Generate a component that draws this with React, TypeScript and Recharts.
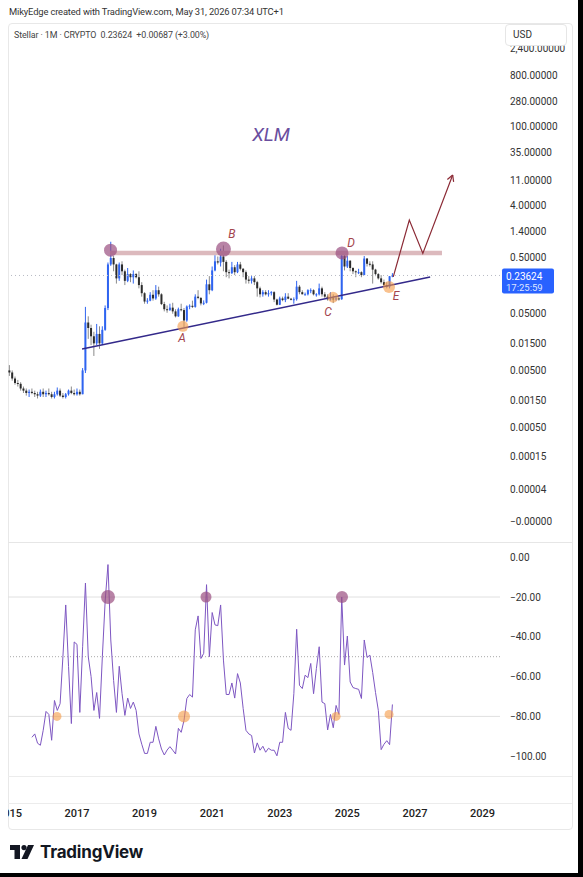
import React from "react";
import {
  ComposedChart,
  LineChart,
  Bar,
  Line,
  XAxis,
  YAxis,
  ReferenceLine,
  ReferenceDot,
} from "recharts";

const FONT = "Roboto, 'Noto Sans', Arial, sans-serif";

// ─── Price data (monthly, index 0 = Jan 2015) ────────────────────────────────
const FIRST_OPEN = 0.005;
const CLOSE = [
  0.0046, 0.0036, 0.003, 0.0029, 0.0024, 0.0022, 0.002, 0.0021, 0.002, 0.0019, 0.0018, 0.0021,
  0.0019, 0.002, 0.0019, 0.0017, 0.0019, 0.0022, 0.0018, 0.0017, 0.0019, 0.0022, 0.002, 0.0019,
  0.0021, 0.0019, 0.005, 0.035, 0.028, 0.02, 0.015, 0.022, 0.015, 0.026, 0.063, 0.37,
  0.48, 0.37, 0.21, 0.37, 0.28, 0.19, 0.25, 0.22, 0.25, 0.22, 0.16, 0.115,
  0.082, 0.085, 0.108, 0.093, 0.13, 0.11, 0.074, 0.06, 0.058, 0.064, 0.055, 0.045,
  0.06, 0.058, 0.038, 0.067, 0.069, 0.066, 0.1, 0.095, 0.076, 0.078, 0.165, 0.13,
  0.29, 0.42, 0.4, 0.51, 0.41, 0.27, 0.26, 0.33, 0.27, 0.37, 0.31, 0.27,
  0.2, 0.19, 0.21, 0.18, 0.14, 0.11, 0.12, 0.11, 0.115, 0.12, 0.089, 0.072,
  0.093, 0.087, 0.1, 0.092, 0.088, 0.09, 0.15, 0.12, 0.11, 0.11, 0.13, 0.13,
  0.11, 0.11, 0.14, 0.11, 0.1, 0.09, 0.093, 0.09, 0.093, 0.09, 0.52, 0.34,
  0.43, 0.32, 0.28, 0.27, 0.27, 0.24, 0.47, 0.38, 0.37, 0.3, 0.25, 0.21,
  0.18, 0.16, 0.15, 0.229, 0.23624,
];
const HIGH = [
  0.0062, 0.005, 0.0039, 0.0034, 0.0031, 0.0026, 0.0024, 0.0023, 0.0024, 0.0022, 0.0021, 0.0023,
  0.0024, 0.0022, 0.0024, 0.0021, 0.0021, 0.0025, 0.0024, 0.002, 0.002, 0.0023, 0.0026, 0.0023,
  0.0024, 0.0023, 0.0055, 0.066, 0.045, 0.032, 0.024, 0.033, 0.03, 0.03, 0.07, 0.4,
  0.93, 0.52, 0.38, 0.4, 0.42, 0.3, 0.32, 0.26, 0.29, 0.26, 0.28, 0.18,
  0.12, 0.094, 0.12, 0.13, 0.16, 0.15, 0.115, 0.081, 0.07, 0.075, 0.078, 0.06,
  0.064, 0.075, 0.063, 0.07, 0.073, 0.085, 0.11, 0.13, 0.098, 0.086, 0.2, 0.23,
  0.34, 0.54, 0.51, 0.7, 0.8, 0.44, 0.3, 0.41, 0.36, 0.41, 0.41, 0.32,
  0.29, 0.23, 0.23, 0.23, 0.19, 0.15, 0.13, 0.13, 0.13, 0.125, 0.125, 0.092,
  0.1, 0.1, 0.115, 0.115, 0.095, 0.097, 0.19, 0.16, 0.13, 0.118, 0.135, 0.14,
  0.135, 0.115, 0.17, 0.15, 0.12, 0.11, 0.12, 0.11, 0.1, 0.1, 0.64, 0.56,
  0.52, 0.44, 0.33, 0.29, 0.31, 0.28, 0.52, 0.48, 0.42, 0.42, 0.31, 0.26,
  0.24, 0.2, 0.18, 0.23, 0.26,
];
const LOW = [
  0.004, 0.0033, 0.0028, 0.0026, 0.0022, 0.002, 0.0018, 0.0017, 0.0019, 0.0017, 0.0016, 0.0017,
  0.0017, 0.0017, 0.0018, 0.0016, 0.0016, 0.0018, 0.0017, 0.0016, 0.0016, 0.0018, 0.0019, 0.0018,
  0.0018, 0.0018, 0.0019, 0.0045, 0.018, 0.014, 0.009, 0.014, 0.012, 0.014, 0.025, 0.058,
  0.35, 0.28, 0.17, 0.19, 0.24, 0.16, 0.18, 0.18, 0.17, 0.21, 0.14, 0.1,
  0.075, 0.075, 0.083, 0.085, 0.088, 0.1, 0.071, 0.055, 0.052, 0.056, 0.05, 0.043,
  0.044, 0.055, 0.029, 0.036, 0.06, 0.063, 0.064, 0.09, 0.07, 0.071, 0.076, 0.11,
  0.125, 0.28, 0.37, 0.34, 0.28, 0.22, 0.21, 0.25, 0.24, 0.26, 0.29, 0.22,
  0.17, 0.17, 0.17, 0.16, 0.1, 0.097, 0.1, 0.105, 0.1, 0.105, 0.08, 0.07,
  0.071, 0.083, 0.08, 0.09, 0.086, 0.075, 0.085, 0.11, 0.11, 0.105, 0.105, 0.115,
  0.105, 0.1, 0.105, 0.1, 0.095, 0.085, 0.085, 0.077, 0.085, 0.085, 0.088, 0.29,
  0.32, 0.28, 0.25, 0.22, 0.25, 0.22, 0.24, 0.34, 0.34, 0.17, 0.23, 0.2,
  0.17, 0.15, 0.14, 0.14, 0.22,
];

// ─── Williams %R (monthly, starts Sep 2015) ──────────────────────────────────
const WR_START = 8;
const WR = [
  -90.5, -88.8, -93.5, -94.5, -87, -77.5, -79, -92, -72, -77, -73.6, -50,
  -24, -55, -83.6, -42.6, -43.8, -78, -45, -13, -50, -60, -77, -68,
  -81, -50, -22, -3.7, -41.6, -62, -78, -54.8, -68.6, -79.5, -70.8, -76,
  -72.8, -77, -88.8, -94, -98.6, -98.6, -93, -93, -85, -91.3, -96.4, -99.4,
  -96.9, -95.2, -97, -98.9, -86, -88, -82, -71, -69, -70.3, -36.5, -29.5,
  -50.9, -48.3, -13.8, -50, -27.8, -34, -34.4, -24, -51.7, -69, -69, -63.2,
  -70.8, -58.5, -63.2, -76, -87, -88.8, -89.6, -98.4, -93.3, -97, -95, -98,
  -96, -97, -97, -99.8, -93, -93, -78, -86, -87, -68.6, -36.2, -64.4,
  -66, -59.3, -60.5, -53.4, -68.6, -56, -45, -72.8, -73.6, -86.8, -79, -85.7,
  -74.5, -79, -20, -54.2, -39.6, -62.7, -65.5, -66, -66.4, -71, -41.6, -50.4,
  -49.2, -58, -68, -77, -96.7, -94, -92.2, -94.2, -74,
];

// ─── Axes ─────────────────────────────────────────────────────────────────────
const X_DOMAIN = [-0.5, 174.2];
const YEAR_TICKS = [2015, 2017, 2019, 2021, 2023, 2025, 2027, 2029];
const PRICE_DOMAIN = [4.71e-6, 6700];
const PRICE_TICKS = [2400, 800, 280, 100, 35, 11, 4, 1.4, 0.5, 0.05, 0.015, 0.005, 0.0015, 0.0005, 0.00015, 0.00004, 0.000011];
const PRICE_TICK_LABELS = [
  "2,400.00000", "800.00000", "280.00000", "100.00000", "35.00000", "11.00000", "4.00000",
  "1.40000", "0.50000", "0.05000", "0.01500", "0.00500", "0.00150", "0.00050", "0.00015",
  "0.00004", "\u22120.00000",
];
const WR_DOMAIN = [-109.95, 7.64];
const WR_TICKS = [0, -20, -40, -60, -80, -100];

const LAST_PRICE = 0.23624;
const COUNTDOWN = "17:25:59";

// ─── Drawings ─────────────────────────────────────────────────────────────────
const RESISTANCE = [{ m: 35.7, v: 0.59 }, { m: 153.6, v: 0.59 }];
const SUPPORT = [{ m: 25.8, v: 0.01192 }, { m: 149.4, v: 0.222 }];
const PROJECTION = [{ m: 136.3, v: 0.224 }, { m: 142.0, v: 2.25 }, { m: 146.8, v: 0.58 }, { m: 157.4, v: 14 }];
const PEAK_M = [35.9, 76.0, 118.1];
const PEAK_V = [0.66, 0.69, 0.59];
const TOUCH_M = [61.6, 114.9, 134.8];
const TOUCH_V = [0.03, 0.098, 0.148];
const POINT_NAMES = ["A", "B", "C", "D", "E"];
const POINT_NAME_M = [61.3, 79.0, 113.1, 121.3, 137.3];
const POINT_NAME_V = [0.0186, 1.27, 0.053, 0.88, 0.102];
const TITLE = { text: "XLM", m: 92.9, v: 73.6 };
const WR_PEAK_M = [35.0, 69.8, 118.1];
const WR_DIP_M = [16.9, 62.0, 116.0, 134.8];
const WR_DIP_V = [-80, -80, -80, -79];

const candles = CLOSE.map((c, i) => ({
  m: i,
  open: i === 0 ? FIRST_OPEN : CLOSE[i - 1],
  close: c,
  high: HIGH[i],
  low: LOW[i],
}));
const wrData = WR.map((v, i) => ({ m: WR_START + i, wr: v }));

const UP = "#2f64f0";
const DOWN = "#2b2b2b";

function Candle(props: any) {
  const { x, y, width, height, payload } = props;
  if (height == null || isNaN(height)) return null;
  const { open, close, high, low } = payload;
  const lh = Math.log(high);
  const span = lh - Math.log(low) || 1;
  const toY = (v: number) => y + (height * (lh - Math.log(v))) / span;
  const cx = x + width / 2;
  const up = close >= open;
  const top = toY(Math.max(open, close));
  const bot = toY(Math.min(open, close));
  return (
    <g>
      <line x1={cx} x2={cx} y1={y} y2={y + height} stroke={up ? UP : "#8a8a8a"} strokeWidth={1} />
      <rect x={cx - 1} y={top} width={2} height={Math.max(bot - top, 1)} fill={up ? UP : DOWN} />
    </g>
  );
}

function PriceTag(props: any) {
  const vb = props.viewBox;
  if (!vb) return null;
  const x = vb.x + vb.width + 2;
  const y = vb.y - 7;
  return (
    <g>
      <rect x={x} y={y} width={52} height={25} rx={2} fill="#2962ff" />
      <text x={x + 4} y={y + 8} fill="#fff" fontSize={10} fontFamily={FONT} dominantBaseline="central">
        {LAST_PRICE.toFixed(5)}
      </text>
      <text x={x + 4} y={y + 19} fill="#dfe6ff" fontSize={9.5} fontFamily={FONT} dominantBaseline="central">
        {COUNTDOWN}
      </text>
    </g>
  );
}

function ArrowDot(props: any) {
  const { cx, cy, index } = props;
  if (index !== PROJECTION.length - 1) return <g key={index} />;
  const ang = Math.atan2(-78.3, 30);
  const back = ang + Math.PI;
  const len = 7;
  const a1 = back - 0.5;
  const a2 = back + 0.5;
  return (
    <g key={index}>
      <line x1={cx} y1={cy} x2={cx + len * Math.cos(a1)} y2={cy + len * Math.sin(a1)} stroke="#8b2a35" strokeWidth={1.2} />
      <line x1={cx} y1={cy} x2={cx + len * Math.cos(a2)} y2={cy + len * Math.sin(a2)} stroke="#8b2a35" strokeWidth={1.2} />
    </g>
  );
}

const tickStyle = { fontSize: 10, fill: "#333", fontFamily: FONT };

function Logo() {
  return (
    <div style={{ position: "absolute", left: 10, top: 842, display: "flex", alignItems: "center", gap: 6 }}>
      <svg width={24} height={14} viewBox="0 0 24 14">
        <rect x={0} y={0} width={10} height={5} fill="#131722" />
        <rect x={4.5} y={0} width={5.5} height={14} fill="#131722" />
        <circle cx={14} cy={2.6} r={2.6} fill="#131722" />
        <polygon points="18,0 24,0 17.5,14 11.5,14" fill="#131722" />
      </svg>
      <span style={{ fontFamily: "Inter, Roboto, sans-serif", fontWeight: 700, fontSize: 17, color: "#131722", letterSpacing: -0.2 }}>
        TradingView
      </span>
    </div>
  );
}

export default function App() {
  return (
    <div style={{ position: "absolute", left: 0, top: 0, width: 583, height: 877, background: "#fff", overflow: "hidden", fontFamily: FONT }}>
      <div style={{ position: "absolute", left: 9, top: 6, fontSize: 9.4, letterSpacing: -0.15, color: "#333", whiteSpace: "nowrap", lineHeight: "12px" }}>
        MikyEdge created with TradingView.com, May 31, 2026 07:34 UTC+1
      </div>
      {/* card */}
      <div style={{ position: "absolute", left: 8, top: 23, width: 563, height: 805, border: "1px solid #e8e8e8", borderRadius: 4 }} />
      <div style={{ position: "absolute", left: 14, top: 29, fontSize: 8.9, letterSpacing: -0.1, color: "#444", whiteSpace: "nowrap", lineHeight: "12px" }}>
        Stellar · 1M · CRYPTO&nbsp; 0.23624&nbsp; +0.00687 (+3.00%)
      </div>
      {/* pane separators */}
      <div style={{ position: "absolute", left: 8, top: 542, width: 564, height: 1, background: "#e6e6e6" }} />
      <div style={{ position: "absolute", left: 8, top: 776, width: 564, height: 1, background: "#ececec" }} />
      <div style={{ position: "absolute", left: 8, top: 803, width: 564, height: 1, background: "#ececec" }} />

      <div style={{ position: "absolute", left: 8, top: 23 }}>
        <ComposedChart width={564} height={519} data={candles} margin={{ top: 0, right: 0, bottom: 0, left: 0 }}>
          <XAxis dataKey="m" type="number" domain={X_DOMAIN} allowDataOverflow hide />
          <YAxis
            orientation="right"
            scale="log"
            domain={PRICE_DOMAIN}
            allowDataOverflow
            ticks={PRICE_TICKS}
            interval={0}
            tickFormatter={(v: number) => PRICE_TICK_LABELS[PRICE_TICKS.indexOf(v)] ?? ""}
            tick={tickStyle}
            tickLine={false}
            axisLine={false}
            tickSize={0}
            tickMargin={10}
            width={72}
          />
          <ReferenceLine y={LAST_PRICE} stroke="#b8bbc4" strokeDasharray="1 3" label={(p: any) => <PriceTag {...p} />} />
          <Bar dataKey={(d: any) => [d.low, d.high]} barSize={2} shape={<Candle />} isAnimationActive={false} />
          <Line data={RESISTANCE} dataKey="v" stroke="#dcb9bd" strokeWidth={4.5} dot={false} isAnimationActive={false} />
          <Line data={SUPPORT} dataKey="v" stroke="#33298a" strokeWidth={1.5} dot={false} isAnimationActive={false} />
          <Line data={PROJECTION} dataKey="v" stroke="#8b2a35" strokeWidth={1.2} dot={<ArrowDot />} isAnimationActive={false} />
          {PEAK_M.map((m, i) => (
            <ReferenceDot key={"p" + i} x={m} y={PEAK_V[i]} r={i === 1 ? 7.5 : 6.5} fill="#9a4f80" fillOpacity={0.7} stroke="none" />
          ))}
          {TOUCH_M.map((m, i) => (
            <ReferenceDot key={"t" + i} x={m} y={TOUCH_V[i]} r={i === 2 ? 6 : 5.5} fill="#f59a45" fillOpacity={0.6} stroke="none" />
          ))}
          {POINT_NAMES.map((n, i) => (
            <ReferenceDot
              key={"n" + i}
              x={POINT_NAME_M[i]}
              y={POINT_NAME_V[i]}
              r={0}
              shape={(p: any) => (
                <text x={p.cx} y={p.cy} textAnchor="middle" dominantBaseline="central" fontSize={12} fontStyle="italic" fill="#a3454d" fontFamily={FONT}>
                  {n}
                </text>
              )}
            />
          ))}
          <ReferenceDot
            x={TITLE.m}
            y={TITLE.v}
            r={0}
            shape={(p: any) => (
              <text x={p.cx} y={p.cy} textAnchor="middle" dominantBaseline="central" fontSize={19} fontStyle="italic" fill="#6a4e9e" fontFamily={FONT}>
                {TITLE.text}
              </text>
            )}
          />
        </ComposedChart>
      </div>

      <div style={{ position: "absolute", left: 8, top: 542 }}>
        <LineChart width={564} height={287} data={wrData} margin={{ top: 0, right: 0, bottom: 0, left: 0 }}>
          <XAxis
            dataKey="m"
            type="number"
            domain={X_DOMAIN}
            allowDataOverflow
            ticks={YEAR_TICKS.map((y) => (y - 2015) * 12)}
            interval={0}
            tickFormatter={(v: number) => String(2015 + v / 12)}
            tick={{ fontSize: 11, fill: "#222", fontFamily: FONT, fontWeight: 500 }}
            tickLine={false}
            axisLine={false}
            tickSize={0}
            tickMargin={33}
            height={53}
          />
          <YAxis
            orientation="right"
            domain={WR_DOMAIN}
            allowDataOverflow
            ticks={WR_TICKS}
            interval={0}
            tickFormatter={(v: number) => (v === 0 ? "0.00" : "\u2212" + Math.abs(v).toFixed(2))}
            tick={tickStyle}
            tickLine={false}
            axisLine={false}
            tickSize={0}
            tickMargin={10}
            width={72}
          />
          <ReferenceLine y={-20} stroke="#e0e0e0" />
          <ReferenceLine y={-80} stroke="#e0e0e0" />
          <ReferenceLine y={-50} stroke="#a8a8a8" strokeDasharray="1 2" />
          <Line dataKey="wr" stroke="#7e57c2" strokeWidth={1} dot={false} isAnimationActive={false} />
          {WR_PEAK_M.map((m, i) => (
            <ReferenceDot key={"wp" + i} x={m} y={-20} r={i === 0 ? 7 : i === 1 ? 5.5 : 6} fill="#9a4f80" fillOpacity={0.7} stroke="none" />
          ))}
          {WR_DIP_M.map((m, i) => (
            <ReferenceDot key={"wd" + i} x={m} y={WR_DIP_V[i]} r={i === 1 ? 6 : 4.5} fill="#f59a45" fillOpacity={0.6} stroke="none" />
          ))}
        </LineChart>
      </div>

      {/* currency box */}
      <div style={{ position: "absolute", left: 505, top: 24, width: 62, height: 22, background: "#fff", border: "1px solid #e6e6e6", borderRadius: 4, fontSize: 10, color: "#333", lineHeight: "20px", paddingLeft: 7, boxSizing: "border-box" }}>
        USD
      </div>
      <Logo />
      <div style={{ position: "absolute", left: 578, top: 0, width: 5, height: 877, background: "#000" }} />
      <div style={{ position: "absolute", left: 0, top: 873, width: 583, height: 4, background: "#000" }} />
    </div>
  );
}
